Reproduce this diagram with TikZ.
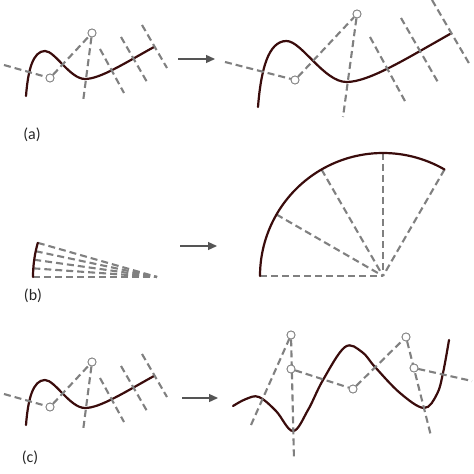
\documentclass[tikz,border=0pt]{standalone}
\usepackage{fontspec}
\setmainfont{Carlito}
\usetikzlibrary{arrows.meta}
\definecolor{curvec}{HTML}{3A0C0C}
\definecolor{dashc}{HTML}{808080}
\definecolor{arrc}{HTML}{555555}
\begin{document}
\begin{tikzpicture}[x=1bp,y=-1bp,
 curve/.style={draw=curvec,line width=2.2bp,line cap=round},
 dline/.style={draw=dashc,line width=2.1bp,dash pattern=on 7bp off 4bp},
 ring/.style={circle,draw=dashc,fill=white,line width=0.8bp,minimum size=8bp,inner sep=0pt},
 arr/.style={draw=arrc,line width=1.3bp,-{Triangle[length=9bp,width=8bp]}},
 lab/.style={font=\fontsize{16}{18}\selectfont,text=black!85}]
\useasboundingbox[fill=white] (0,0) rectangle (474,474);

% ---- small panels (a) and (c), left
\foreach \p/\dy in {a/0,c/329}{
  \begin{scope}[yshift=-\dy bp]
    \node[ring] (\p r1) at (50,78) {};
    \node[ring] (\p r2) at (92,33) {};
    \coordinate (\p e1) at (4,65);
    \coordinate (\p e2) at (83,102);
    \coordinate (\p s1) at (100,49); \coordinate (\p t1) at (124,93);
    \coordinate (\p s2) at (121,37); \coordinate (\p t2) at (147,82);
    \coordinate (\p s3) at (142,25); \coordinate (\p t3) at (167,68);
    \draw[curve] (26,96) .. controls (28,70) and (33,51) .. (45,51)
                 .. controls (55,51) and (70,79) .. (85,79)
                 .. controls (100,79) and (125,63) .. (154,47);
    \draw[dline] (\p e1) -- (\p r1);
    \draw[dline] (\p r1) -- (\p r2);
    \draw[dline] (\p r2) -- (\p e2);
    \draw[dline] (\p s1) -- (\p t1);
    \draw[dline] (\p s2) -- (\p t2);
    \draw[dline] (\p s3) -- (\p t3);
    \node[ring] at (\p r1) {};
    \node[ring] at (\p r2) {};
  \end{scope}
}

% ---- (a) right
\node[ring] (ar1) at (295,80) {};
\node[ring] (ar2) at (357,14) {};
\coordinate (ae1) at (225,62);
\coordinate (ae2) at (343,117);
\coordinate (as1) at (370,37); \coordinate (at1) at (406,103);
\coordinate (as2) at (401,18); \coordinate (at2) at (439,84);
\coordinate (as3) at (432,0);  \coordinate (at3) at (470,65);
\draw[curve] (258,107) .. controls (261,69) and (268.5,41) .. (286.5,41)
             .. controls (301.5,41) and (324,82) .. (346.5,82)
             .. controls (369,82) and (406.5,58.5) .. (450,34);
\draw[dline] (ae1) -- (ar1);
\draw[dline] (ar1) -- (ar2);
\draw[dline] (ar2) -- (ae2);
\draw[dline] (as1) -- (at1);
\draw[dline] (as2) -- (at2);
\draw[dline] (as3) -- (at3);
\node[ring] at (ar1) {};
\node[ring] at (ar2) {};

% ---- (b) fans
\coordinate (fc) at (157,277);
\foreach \a [count=\i] in {180,176,172,168,164}{
  \coordinate (fp\i) at ({157+124*cos(\a)},{277-124*sin(\a)});
  \draw[dline] (fp\i) -- (fc);
}
\draw[curve] plot[domain=180:164,samples=10] ({157+124*cos(\x)},{277-124*sin(\x)});

\coordinate (gc) at (383,276);
\foreach \a [count=\i] in {180,150,120,90,60}{
  \coordinate (gp\i) at ({383+123*cos(\a)},{276-123*sin(\a)});
  \draw[dline] (gp\i) -- (gc);
}
\draw[curve] plot[domain=180:60,samples=60] ({383+123*cos(\x)},{276-123*sin(\x)});

% ---- (c) right
\node[ring] (cR1) at (291,335) {};
\node[ring] (cR2) at (291,369) {};
\node[ring] (cR3) at (353,389) {};
\node[ring] (cR4) at (406,337) {};
\node[ring] (cR5) at (414,368) {};
\coordinate (cE1) at (251,425);
\coordinate (cE2) at (294,460);
\coordinate (cE3) at (431,436);
\coordinate (cE4) at (472,381);
\draw[curve] plot[smooth,tension=0.6] coordinates {(233,406) (246,399) (259,397) (276,411) (293,431) (308,410) (323,380) (345,347) (362,352) (375,367) (400,393) (424,408) (437,394) (443,373) (449,340)};
\draw[dline] (cE1) -- (cR1);
\draw[dline] (cR1) -- (cE2);
\draw[dline] (cR2) -- (cR3);
\draw[dline] (cR3) -- (cR4);
\draw[dline] (cR4) -- (cE3);
\draw[dline] (cR5) -- (cE4);
\foreach \n in {cR1,cR2,cR3,cR4,cR5}{\node[ring] at (\n) {};}

% ---- arrows
\coordinate (a1) at (178,59);  \coordinate (a2) at (215,59);
\coordinate (b1) at (180,246); \coordinate (b2) at (217,246);
\coordinate (c1) at (182,398); \coordinate (c2) at (218,398);
\draw[arr] (a1) -- (a2);
\draw[arr] (b1) -- (b2);
\draw[arr] (c1) -- (c2);

% ---- labels
\node[lab] (la) at (32,135) {(a)};
\node[lab] (lb) at (33,296) {(b)};
\node[lab] (lc) at (30,458) {(c)};
\end{tikzpicture}
\end{document}
